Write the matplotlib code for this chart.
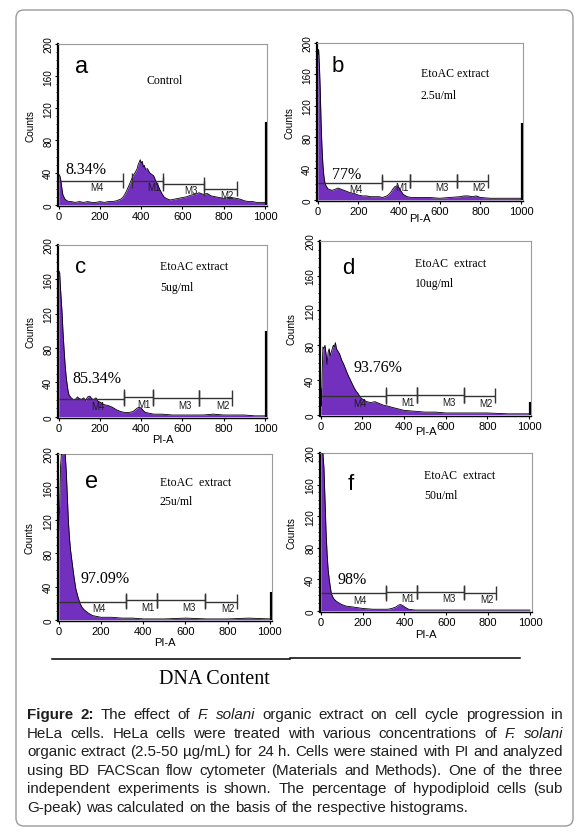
import matplotlib
matplotlib.use('Agg')
import matplotlib.pyplot as plt
from matplotlib.patches import FancyBboxPatch
from matplotlib.lines import Line2D

plt.rcParams['font.family'] = ['Liberation Sans', 'DejaVu Sans']

# ---------------- data ----------------
a_x = [0, 5, 10, 15, 20, 30, 40, 50, 60, 80, 100, 120, 140, 160, 180, 200, 220, 240, 260, 280,
       300, 310, 320, 330, 340, 350, 360, 370, 380, 385, 390, 395, 400, 405, 410, 415, 420, 430,
       440, 450, 460, 470, 480, 490, 500, 510, 520, 540, 560, 580, 600, 620, 640, 660, 680, 700,
       720, 740, 760, 780, 800, 820, 840, 860, 880, 900, 920, 940, 960, 980, 1000]
a_y = [38, 36, 30, 20, 12, 7, 5, 4, 4, 3, 4, 3, 4, 3, 3, 4, 3, 4, 4, 5,
       7, 9, 13, 18, 24, 30, 36, 40, 45, 50, 53, 56, 52, 54, 47, 49, 44, 45,
       40, 38, 36, 30, 25, 19, 14, 10, 8, 6, 7, 8, 9, 10, 12, 13, 15, 13,
       14, 11, 10, 9, 8, 9, 9, 8, 7, 5, 4, 4, 3, 3, 3]

b_x = [0, 4, 8, 12, 16, 20, 25, 30, 35, 40, 50, 60, 70, 80, 90, 100, 110, 120, 140, 160, 180,
       200, 220, 240, 260, 280, 300, 320, 340, 350, 360, 370, 380, 390, 400, 410, 420, 440, 460,
       480, 500, 550, 600, 650, 700, 720, 740, 760, 780, 800, 850, 900, 950, 1000]
b_y = [185, 192, 170, 140, 100, 70, 45, 30, 22, 18, 14, 13, 12, 13, 14, 15, 14, 13, 11, 9, 8,
       6, 5, 5, 4, 4, 4, 3, 5, 7, 10, 14, 17, 18, 15, 11, 7, 4, 3,
       3, 3, 3, 2, 3, 4, 5, 5, 4, 5, 3, 2, 2, 2, 2]

c_x = [0, 4, 8, 12, 16, 20, 25, 30, 35, 40, 45, 50, 60, 70, 80, 90, 100, 110, 120, 130, 140,
       150, 160, 170, 180, 190, 200, 220, 240, 260, 280, 300, 320, 340, 360, 370, 380, 390, 400,
       410, 420, 440, 460, 500, 550, 600, 650, 700, 750, 800, 850, 900, 950, 1000]
c_y = [170, 168, 150, 135, 120, 100, 80, 62, 48, 38, 30, 25, 22, 20, 20, 23, 21, 20, 22, 19, 23,
       24, 21, 20, 22, 18, 17, 14, 13, 11, 8, 6, 5, 5, 6, 8, 10, 11, 10,
       7, 5, 4, 3, 3, 2, 2, 2, 2, 3, 2, 2, 2, 1, 1]

d_x = [0, 3, 6, 10, 15, 20, 25, 30, 35, 40, 45, 50, 55, 60, 65, 70, 75, 80, 90, 100, 110, 120,
       130, 140, 150, 160, 170, 180, 190, 200, 220, 240, 260, 280, 300, 320, 350, 400, 450, 500,
       550, 600, 700, 800, 900, 1000]
d_y = [30, 10, 45, 78, 76, 80, 70, 58, 72, 76, 68, 72, 76, 80, 78, 83, 76, 74, 70, 63, 58, 52,
       46, 41, 36, 31, 27, 24, 20, 18, 15, 14, 15, 13, 11, 10, 8, 5, 4, 3,
       3, 2, 2, 2, 1, 1]

e_x = [0, 4, 8, 12, 16, 20, 25, 30, 35, 40, 45, 50, 55, 60, 70, 80, 90, 100, 110, 120, 140, 160,
       180, 200, 250, 300, 350, 400, 500, 600, 700, 800, 900, 1000]
e_y = [108, 140, 185, 200, 200, 200, 200, 200, 180, 150, 120, 100, 85, 75, 55, 38, 28, 20, 15,
       12, 8, 5, 4, 3, 3, 2, 2, 1, 1, 2, 1, 1, 2, 1]

f_x = [0, 5, 10, 15, 20, 25, 30, 35, 40, 50, 60, 70, 80, 100, 120, 150, 200, 250, 300, 320, 340,
       360, 370, 380, 390, 400, 420, 450, 500, 600, 700, 800, 900, 1000]
f_y = [200, 200, 200, 180, 140, 100, 72, 52, 40, 22, 16, 13, 11, 8, 6, 5, 3, 2, 2, 2, 3,
       5, 7, 8, 7, 5, 2, 1, 1, 1, 1, 1, 1, 1]

# overflow channel (last bin) counts
overflow = {'a': 103, 'b': 98, 'c': 100, 'd': 15, 'e': 33, 'f': 0}

gate_names = ['M4', 'M1', 'M3', 'M2']
# (start, end, level) per gate
a_gates = [(0, 310, 30), (355, 505, 30), (505, 702, 26), (702, 863, 20)]
b_gates = [(0, 315, 22), (315, 455, 24), (455, 684, 24), (684, 838, 24)]
c_gates = [(0, 318, 21), (318, 457, 23), (457, 682, 22), (682, 838, 22)]
d_gates = [(0, 312, 21), (312, 463, 23), (463, 686, 23), (686, 838, 22)]
e_gates = [(0, 319, 22), (319, 463, 23.5), (463, 691, 23.5), (691, 843, 22)]
f_gates = [(0, 313, 22), (313, 460, 24), (460, 684, 24), (684, 837, 23)]

percent_labels = {'a': '8.34%', 'b': '77%', 'c': '85.34%', 'd': '93.76%', 'e': '97.09%', 'f': '98%'}
title_lines = {'a': ['Control'],
               'b': ['EtoAC extract', '2.5u/ml'],
               'c': ['EtoAC extract', '5ug/ml'],
               'd': ['EtoAC  extract', '10ug/ml'],
               'e': ['EtoAC  extract', '25u/ml'],
               'f': ['EtoAC  extract', '50u/ml']}

x_ticks = [0, 200, 400, 600, 800, 1000]
y_ticks = [0, 40, 80, 120, 160, 200]

caption = [
    [("Figure 2:", "bold"), (" The effect of ", "normal"), ("F. solani", "italic"),
     (" organic extract on cell cycle progression in", "normal")],
    [("HeLa cells. HeLa cells were treated with various concentrations of ", "normal"),
     ("F. solani", "italic")],
    [("organic extract (2.5-50 \u00b5g/mL) for 24 h. Cells were stained with PI and analyzed", "normal")],
    [("using BD FACScan flow cytometer (Materials and Methods). One of the three", "normal")],
    [("independent experiments is shown. The percentage of hypodiploid cells (sub", "normal")],
    [("G-peak) was calculated on the basis of the respective histograms.", "normal")],
]

# ---------------- figure ----------------
W, H = 586, 837
fig = plt.figure(figsize=(W / 100, H / 100), dpi=100)
fig.patch.set_facecolor('white')

purple = '#7330bf'
SANS = ['Liberation Sans', 'DejaVu Sans']
SERIF = ['Liberation Serif', 'DejaVu Serif']


def ax_rect(l, t, r, b):
    return [l / W, 1 - b / H, (r - l) / W, (b - t) / H]


layout = {
    'a': dict(rect=(58, 45, 267, 207), letter=(80, 165, 17), title=(427, [152]), pct=(32, 39),
              xlab=None),
    'b': dict(rect=(317, 44, 523, 202), letter=(70, 164, 16), title=(506, [158, 130]), pct=(70, 28),
              xlab=-0.108),
    'c': dict(rect=(58, 246, 267, 419), letter=(80, 168, 16), title=(490, [172, 148]), pct=(64, 41),
              xlab=-0.12),
    'd': dict(rect=(320, 242, 531, 417), letter=(100, 163, 16), title=(454, [171, 148]), pct=(156, 50),
              xlab=-0.085),
    'e': dict(rect=(58, 455, 272, 622), letter=(126, 160, 17), title=(479, [163, 140]), pct=(102, 46),
              xlab=-0.126),
    'f': dict(rect=(320, 454, 532, 613), letter=(128, 155, 16), title=(494, [168, 143]), pct=(80, 35),
              xlab=-0.138),
}
series = {'a': (a_x, a_y, a_gates), 'b': (b_x, b_y, b_gates), 'c': (c_x, c_y, c_gates),
          'd': (d_x, d_y, d_gates), 'e': (e_x, e_y, e_gates), 'f': (f_x, f_y, f_gates)}
label_frac = [0.60, 0.70, 0.68, 0.72]

for key in 'abcdef':
    lay = layout[key]
    xs, ys, gates = series[key]
    assert len(xs) == len(ys)
    ax = fig.add_axes(ax_rect(*lay['rect']))
    ax.set_xlim(-4, 1010)
    ax.set_ylim(-1.5, 200)
    ax.fill_between(xs, ys, 0, color=purple, lw=0, zorder=2)
    ax.plot(xs, ys, color='black', lw=0.6, zorder=3, clip_on=True)
    if overflow[key] > 0:
        ax.vlines(1003, 0, overflow[key], color='black', lw=1.6, zorder=3)
    # gates
    for (s, e, lev), name, fr in zip(gates, gate_names, label_frac):
        ax.hlines(lev, s, e, color='#333333', lw=1.0, zorder=4)
        ends = [e] if s == 0 else [s, e]
        ax.vlines(ends, lev - 9, lev + 9, color='#333333', lw=1.0, zorder=4)
        ax.text(s + fr * (e - s), lev - 8, name, fontsize=7, family=SANS, color='#1a1a1a',
                ha='center', va='center', zorder=5)
    # texts
    lx, ly, lsz = lay['letter']
    ax.text(lx, ly, key, fontsize=lsz, family=SANS, ha='left', va='baseline', zorder=6)
    tx, tys = lay['title']
    for line, ty in zip(title_lines[key], tys):
        ax.text(tx, ty, line, fontsize=8.5, family=SERIF, ha='left', va='baseline', zorder=6)
    px_, py_ = lay['pct']
    ax.text(px_, py_, percent_labels[key], fontsize=11.5, family=SERIF, ha='left', va='baseline',
            zorder=6)
    # axes style
    for s in ['top', 'right']:
        ax.spines[s].set_color('#9a9a9a')
        ax.spines[s].set_linewidth(0.8)
    ax.spines['left'].set_color('black')
    ax.spines['left'].set_linewidth(1.6)
    ax.spines['bottom'].set_color('black')
    ax.spines['bottom'].set_linewidth(1.0)
    ax.set_xticks(x_ticks)
    ax.set_yticks(y_ticks)
    ax.set_yticks(list(range(0, 201, 10)), minor=True)
    ax.tick_params(axis='both', which='major', direction='out', length=2.5, width=0.8, pad=1)
    ax.tick_params(axis='x', which='major', labelsize=8)
    ax.tick_params(axis='y', which='major', labelsize=7.2)
    ax.tick_params(axis='y', which='minor', direction='out', length=1.6, width=0.6)
    for lab in ax.get_yticklabels():
        lab.set_rotation(90)
        lab.set_va('center')
    ax.set_ylabel('Counts', fontsize=7.2, family=SANS)
    ax.yaxis.set_label_coords(-0.11, 0.5)
    if lay['xlab'] is not None:
        ax.set_xlabel('PI-A', fontsize=8, family=SANS)
        ax.xaxis.set_label_coords(0.5, lay['xlab'])
        ax.xaxis.label.set_va('center')

# separator line and axis title
fig.add_artist(Line2D([52 / W, 290 / W], [1 - 659.5 / H, 1 - 659.5 / H], color='black', lw=1.1))
fig.add_artist(Line2D([290 / W, 520 / W], [1 - 658.5 / H, 1 - 658.5 / H], color='black', lw=1.1))
fig.text(214 / W, 1 - 679 / H, 'DNA Content', fontsize=14.5, family=SERIF, ha='center', va='center')

# outer rounded frame
frame = FancyBboxPatch((0.16, (H - 827) / 100), 5.57, 8.16,
                       boxstyle='round,pad=0,rounding_size=0.08',
                       transform=fig.dpi_scale_trans, ec='#9a9a9a', fc='none', lw=1.0)
fig.add_artist(frame)

# caption, justified word by word
renderer = fig.canvas.get_renderer()
cap_size = 10.9
cap_x0, cap_x1 = 27, 563
cap_y = [715, 733.6, 752.2, 770.8, 789.4, 808]
space_px = 0.278 * cap_size * 100 / 72
for li, segs in enumerate(caption):
    words = []
    for txt, sty in segs:
        for w in txt.split():
            words.append((w, sty))
    arts = []
    for w, sty in words:
        t = fig.text(0, 1 - cap_y[li] / H, w, fontsize=cap_size, family=SANS,
                     weight='bold' if sty == 'bold' else 'normal',
                     style='italic' if sty == 'italic' else 'normal',
                     color='#1e1e1e', ha='left', va='center')
        arts.append(t)
    widths = [t.get_window_extent(renderer).width for t in arts]
    last = li == len(caption) - 1
    gap = space_px if last else (cap_x1 - cap_x0 - sum(widths)) / (len(arts) - 1)
    x = cap_x0
    for t, wd in zip(arts, widths):
        t.set_x(x / W)
        x += wd + gap

fig.savefig('out.png', dpi=100)
